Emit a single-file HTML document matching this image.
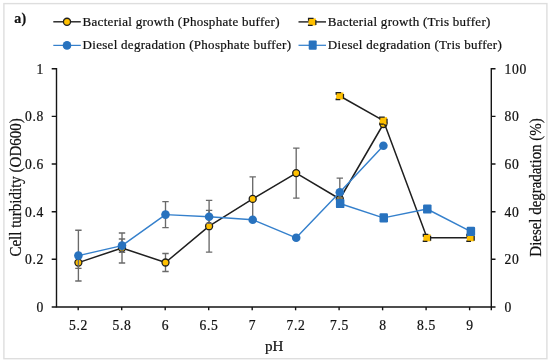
<!DOCTYPE html>
<html><head><meta charset="utf-8"><title>chart</title>
<style>html,body{margin:0;padding:0;background:#fff;}body{width:550px;height:362px;position:relative;overflow:hidden}</style>
</head><body>
<svg width="550" height="362" viewBox="0 0 550 362" style="position:absolute;left:0;top:0">
<rect x="3.9" y="3.6" width="543" height="355.1" fill="#fff" stroke="#dedede" stroke-width="1.4"/>
<g stroke="#151515" stroke-width="1.4" fill="none">
<path d="M56.5 68.0V307.0M491.3 68.0V307.0M55.8 307.0H492.0"/>
<path d="M51.7 307.0H56.5M491.3 307.0H495.5"/>
<path d="M51.7 259.3H56.5M491.3 259.3H495.5"/>
<path d="M51.7 211.7H56.5M491.3 211.7H495.5"/>
<path d="M51.7 164.0H56.5M491.3 164.0H495.5"/>
<path d="M51.7 116.4H56.5M491.3 116.4H495.5"/>
<path d="M51.7 68.7H56.5M491.3 68.7H495.5"/>
<path d="M78.2 307.0V310.3"/>
<path d="M121.7 307.0V310.3"/>
<path d="M165.2 307.0V310.3"/>
<path d="M208.7 307.0V310.3"/>
<path d="M252.2 307.0V310.3"/>
<path d="M295.6 307.0V310.3"/>
<path d="M339.1 307.0V310.3"/>
<path d="M382.6 307.0V310.3"/>
<path d="M426.1 307.0V310.3"/>
<path d="M469.6 307.0V310.3"/>
<path d="M491.3 307.0V310.3"/>
</g>
<path d="M78.4 256.9V268.3M75.2 256.9h6.4M75.2 268.3h6.4" stroke="#6a6a6a" stroke-width="1.35" fill="none"/>
<path d="M122.0 233.0V263.0M118.8 233.0h6.4M118.8 263.0h6.4" stroke="#6a6a6a" stroke-width="1.35" fill="none"/>
<path d="M165.5 253.5V271.5M162.3 253.5h6.4M162.3 271.5h6.4" stroke="#6a6a6a" stroke-width="1.35" fill="none"/>
<path d="M209.1 200.3V252.1M205.9 200.3h6.4M205.9 252.1h6.4" stroke="#6a6a6a" stroke-width="1.35" fill="none"/>
<path d="M252.7 176.9V220.9M249.5 176.9h6.4M249.5 220.9h6.4" stroke="#6a6a6a" stroke-width="1.35" fill="none"/>
<path d="M296.2 148.1V198.1M293.1 148.1h6.4M293.1 198.1h6.4" stroke="#6a6a6a" stroke-width="1.35" fill="none"/>
<polyline points="78.4,262.6 122.0,248.0 165.5,262.5 209.1,226.2 252.7,198.9 296.2,173.1 339.8,199.0 383.4,124.0" fill="none" stroke="#1f1f1f" stroke-width="1.5" stroke-linejoin="round"/>
<circle cx="78.4" cy="262.6" r="3.5" fill="#ffc000" stroke="#1f1f1f" stroke-width="1.3"/>
<circle cx="122.0" cy="248.0" r="3.5" fill="#ffc000" stroke="#1f1f1f" stroke-width="1.3"/>
<circle cx="165.5" cy="262.5" r="3.5" fill="#ffc000" stroke="#1f1f1f" stroke-width="1.3"/>
<circle cx="209.1" cy="226.2" r="3.5" fill="#ffc000" stroke="#1f1f1f" stroke-width="1.3"/>
<circle cx="252.7" cy="198.9" r="3.5" fill="#ffc000" stroke="#1f1f1f" stroke-width="1.3"/>
<circle cx="296.2" cy="173.1" r="3.5" fill="#ffc000" stroke="#1f1f1f" stroke-width="1.3"/>
<circle cx="339.8" cy="199.0" r="3.5" fill="#ffc000" stroke="#1f1f1f" stroke-width="1.3"/>
<circle cx="383.4" cy="124.0" r="3.5" fill="#ffc000" stroke="#1f1f1f" stroke-width="1.3"/>
<path d="M336.6 198h6.4M339.8 198v3" stroke="#6a6a6a" stroke-width="1.35" fill="none"/>
<polyline points="339.8,96.0 383.4,120.7 427.0,237.8 470.5,237.8" fill="none" stroke="#1f1f1f" stroke-width="1.5" stroke-linejoin="round"/>
<rect x="336.17" y="92.50" width="7.3" height="7.0" fill="#ffc000" stroke="#1f1f1f" stroke-width="1.25" stroke-dasharray="5 3.75"/>
<rect x="379.74" y="117.20" width="7.3" height="7.0" fill="#ffc000" stroke="#1f1f1f" stroke-width="1.25" stroke-dasharray="5 3.75"/>
<rect x="423.31" y="234.30" width="7.3" height="7.0" fill="#ffc000" stroke="#1f1f1f" stroke-width="1.25" stroke-dasharray="5 3.75"/>
<rect x="466.88" y="234.30" width="7.3" height="7.0" fill="#ffc000" stroke="#1f1f1f" stroke-width="1.25" stroke-dasharray="5 3.75"/>
<path d="M78.4 230.2V281.0M75.2 230.2h6.4M75.2 281.0h6.4" stroke="#6a6a6a" stroke-width="1.35" fill="none"/>
<path d="M122.0 239.0V252.2M118.8 239.0h6.4M118.8 252.2h6.4" stroke="#6a6a6a" stroke-width="1.35" fill="none"/>
<path d="M165.5 201.6V227.6M162.3 201.6h6.4M162.3 227.6h6.4" stroke="#6a6a6a" stroke-width="1.35" fill="none"/>
<path d="M209.1 210.3V223.3M205.9 210.3h6.4M205.9 223.3h6.4" stroke="#6a6a6a" stroke-width="1.35" fill="none"/>
<path d="M339.8 178.1V206.5M336.6 178.1h6.4M336.6 206.5h6.4" stroke="#6a6a6a" stroke-width="1.35" fill="none"/>
<polyline points="78.4,255.6 122.0,245.6 165.5,214.6 209.1,216.8 252.7,219.8 296.2,237.8 339.8,192.3 383.4,145.8" fill="none" stroke="#3580cc" stroke-width="1.45" stroke-linejoin="round"/>
<circle cx="78.4" cy="255.6" r="4.3" fill="#2872be"/>
<circle cx="122.0" cy="245.6" r="4.3" fill="#2872be"/>
<circle cx="165.5" cy="214.6" r="4.3" fill="#2872be"/>
<circle cx="209.1" cy="216.8" r="4.3" fill="#2872be"/>
<circle cx="252.7" cy="219.8" r="4.3" fill="#2872be"/>
<circle cx="296.2" cy="237.8" r="4.3" fill="#2872be"/>
<circle cx="339.8" cy="192.3" r="4.3" fill="#2872be"/>
<circle cx="383.4" cy="145.8" r="4.3" fill="#2872be"/>
<polyline points="339.8,203.5 383.4,217.9 427.0,209.0 470.5,231.3" fill="none" stroke="#3580cc" stroke-width="1.45" stroke-linejoin="round"/>
<rect x="335.92" y="198.90" width="8.5" height="9.2" rx="1.2" fill="#2872be"/>
<rect x="379.49" y="213.30" width="8.5" height="9.2" rx="1.2" fill="#2872be"/>
<rect x="423.06" y="204.40" width="8.5" height="9.2" rx="1.2" fill="#2872be"/>
<rect x="466.63" y="226.70" width="8.5" height="9.2" rx="1.2" fill="#2872be"/>
<path d="M53.3 21.8H80.8" stroke="#1f1f1f" stroke-width="1.4"/>
<circle cx="67" cy="21.8" r="3.55" fill="#ffc000" stroke="#1f1f1f" stroke-width="1.3"/>
<path d="M53.3 45.4H80.8" stroke="#3580cc" stroke-width="1.25"/>
<circle cx="67" cy="45.4" r="4.3" fill="#2872be"/>
<path d="M298.5 21.9H326.0" stroke="#1f1f1f" stroke-width="1.4"/>
<rect x="308.55" y="18.45" width="7.3" height="7.0" fill="#ffc000" stroke="#1f1f1f" stroke-width="1.25" stroke-dasharray="5 3.75"/>
<path d="M298.5 45.3H326.0" stroke="#3580cc" stroke-width="1.25"/>
<rect x="308.70" y="40.40" width="8" height="9.3" rx="1" fill="#2872be"/>
<g font-family="Liberation Serif, serif" font-size="13.6" letter-spacing="0.6" fill="#111" stroke="#111" stroke-width="0.22">
<g font-size="13.0" letter-spacing="0.29">
<text x="14.2" y="23.1" font-weight="bold" font-size="14" letter-spacing="0.4">a)</text>
<text x="82.6" y="26.3">Bacterial growth (Phosphate buffer)</text>
<text x="82.6" y="49.4">Diesel degradation (Phosphate buffer)</text>
<text x="327.8" y="26.3">Bacterial growth (Tris buffer)</text>
<text x="327.8" y="49.4">Diesel degradation (Tris buffer)</text>
</g>
<text x="43.9" y="311.9" text-anchor="end">0</text>
<text x="504.6" y="311.9">0</text>
<text x="43.9" y="264.2" text-anchor="end">0.2</text>
<text x="504.6" y="264.2">20</text>
<text x="43.9" y="216.6" text-anchor="end">0.4</text>
<text x="504.6" y="216.6">40</text>
<text x="43.9" y="168.9" text-anchor="end">0.6</text>
<text x="504.6" y="168.9">60</text>
<text x="43.9" y="121.3" text-anchor="end">0.8</text>
<text x="504.6" y="121.3">80</text>
<text x="43.9" y="73.6" text-anchor="end">1</text>
<text x="504.6" y="73.6">100</text>
<text x="78.5" y="330.0" text-anchor="middle">5.2</text>
<text x="122.0" y="330.0" text-anchor="middle">5.8</text>
<text x="165.5" y="330.0" text-anchor="middle">6</text>
<text x="209.0" y="330.0" text-anchor="middle">6.5</text>
<text x="252.5" y="330.0" text-anchor="middle">7</text>
<text x="295.9" y="330.0" text-anchor="middle">7.2</text>
<text x="339.4" y="330.0" text-anchor="middle">7.5</text>
<text x="382.9" y="330.0" text-anchor="middle">8</text>
<text x="426.4" y="330.0" text-anchor="middle">8.5</text>
<text x="469.9" y="330.0" text-anchor="middle">9</text>
<text x="274.3" y="351.0" text-anchor="middle" font-size="15.1" letter-spacing="0">pH</text>
<text transform="translate(20.6 187.4) rotate(-90) scale(0.95 1)" text-anchor="middle" font-size="15.8" letter-spacing="0">Cell turbidity (OD600)</text>
<text transform="translate(541.3 187.5) rotate(-90) scale(0.944 1)" text-anchor="middle" font-size="15.8" letter-spacing="0">Diesel degradation (%)</text>
</g>
</svg>
</body></html>
